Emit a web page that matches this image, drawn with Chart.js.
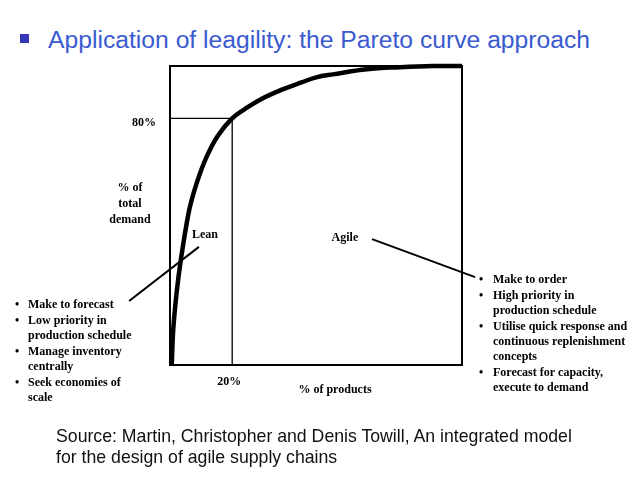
<!DOCTYPE html>
<html>
<head>
<meta charset="utf-8">
<script src="https://cdn.jsdelivr.net/npm/chart.js@4.4.1/dist/chart.umd.min.js"></script>
<style>
  html, body { margin: 0; padding: 0; background: #fff; width: 638px; height: 479px; overflow: hidden; }
  body { position: relative; font-family: "Liberation Sans", Arial, sans-serif; }
  #chart { position: absolute; left: 0; top: 0; }
  #sq { position: absolute; left: 20px; top: 34px; width: 9px; height: 9px; background: #3535b8; }
  #title { position: absolute; left: 48px; top: 25px; font-size: 24.7px; line-height: 30px; color: #3a5ad0; white-space: nowrap; }
  #source { position: absolute; left: 56px; top: 426px; font-size: 17.7px; line-height: 21px; color: #111; white-space: nowrap; }
</style>
</head>
<body>
<div id="sq"></div>
<div id="title">Application of leagility: the Pareto curve approach</div>
<canvas id="chart" width="638" height="479"></canvas>
<div id="source">Source: Martin, Christopher and Denis Towill, An integrated model<br>for the design of agile supply chains</div>

<script>
// pareto curve, % of products vs % of total demand
const curveX = [0.6, 1.1, 2.3, 3.7, 6.3, 8.0, 10.2, 13.0, 16.4, 21.2, 25.6, 31.3, 38.1, 45.0, 50.1, 55.8, 67.4, 78.8, 90.1, 100];
const curveY = [0, 11.7, 24.5, 35.1, 50.5, 57.2, 63.9, 70.6, 76.7, 82.4, 85.6, 89.0, 92.0, 94.5, 96.2, 97.2, 98.9, 99.6, 100, 100];

// the 20/80 marker and its tick labels
const xTickValues = [21.3];
const xTickLabels = ['20%'];
const yTickValues = [82.5];
const yTickLabels = ['80%'];

// axis titles
const xTitle = '% of products';
const yTitleLines = ['% of', 'total', 'demand'];

// region labels + pointer lines (data units)
const leanLabel = ['Lean', 12.0, 43.5];
const agileLabel = ['Agile', 59.9, 42.5];
const leanPointerX = [-14.0, 9.9];
const leanPointerY = [21.4, 39.5];
const agilePointerX = [69.2, 104.5];
const agilePointerY = [42.1, 29.4];

const leanNotes = [
  ['Make to forecast'],
  ['Low priority in', 'production schedule'],
  ['Manage inventory', 'centrally'],
  ['Seek economies of', 'scale']
];
const agileNotes = [
  ['Make to order'],
  ['High priority in', 'production schedule'],
  ['Utilise quick response and', 'continuous replenishment', 'concepts'],
  ['Forecast for capacity,', 'execute to demand']
];

const serif = '"Liberation Serif", "Times New Roman", serif';
const toPts = (xs, ys) => xs.map((v, i) => ({ x: v, y: ys[i] }));

function drawNotes(ctx, notes, bx, tx, y0) {
  let y = y0;
  notes.forEach(item => {
    item.forEach((line, j) => {
      if (j === 0) ctx.fillText('\u2022', bx, y);
      ctx.fillText(line, tx, y);
      y += 15;
    });
    y += 1;
  });
}

const overlay = {
  id: 'overlay',
  afterDatasetsDraw(chart) {
    const { ctx, chartArea: a, scales: { x, y } } = chart;
    ctx.save();
    // frame around the plot
    ctx.strokeStyle = '#000';
    ctx.lineWidth = 2;
    ctx.strokeRect(a.left, a.top, a.right - a.left, a.bottom - a.top);

    ctx.fillStyle = '#000';
    ctx.font = 'bold 12px ' + serif;
    ctx.textAlign = 'center';
    ctx.textBaseline = 'middle';
    yTitleLines.forEach((t, i) => ctx.fillText(t, 130, 188 + i * 16));
    ctx.fillText(xTitle, 335, 390);
    [leanLabel, agileLabel].forEach(l => ctx.fillText(l[0], x.getPixelForValue(l[1]), y.getPixelForValue(l[2])));

    ctx.textAlign = 'left';
    drawNotes(ctx, leanNotes, 15, 28, 305);
    drawNotes(ctx, agileNotes, 479, 493, 280);
    ctx.restore();
  }
};

new Chart(document.getElementById('chart'), {
  type: 'line',
  data: {
    datasets: [
      {
        data: toPts(curveX, curveY),
        borderColor: '#000',
        borderWidth: 4.5,
        tension: 0.4,
        pointRadius: 0,
        clip: false
      },
      {
        // 80% / 20% guide
        data: [{ x: 0, y: yTickValues[0] }, { x: xTickValues[0], y: yTickValues[0] }, { x: xTickValues[0], y: 0 }],
        borderColor: '#000',
        borderWidth: 1.3,
        pointRadius: 0
      },
      {
        data: toPts(leanPointerX, leanPointerY),
        borderColor: '#000',
        borderWidth: 2,
        pointRadius: 0,
        clip: false
      },
      {
        data: toPts(agilePointerX, agilePointerY),
        borderColor: '#000',
        borderWidth: 2,
        pointRadius: 0,
        clip: false
      }
    ]
  },
  options: {
    responsive: false,
    animation: false,
    events: [],
    layout: { padding: { left: 130, right: 176, top: 66, bottom: 84 } },
    plugins: { legend: { display: false }, tooltip: { enabled: false } },
    scales: {
      x: {
        type: 'linear', min: 0, max: 100,
        grid: { display: false, drawTicks: false },
        border: { display: false },
        afterBuildTicks: s => { s.ticks = xTickValues.map(v => ({ value: v })); },
        afterFit: s => { s.height = 30; },
        ticks: {
          padding: 10, autoSkip: false, maxRotation: 0, color: '#000', labelOffset: -3,
          font: { family: serif, size: 12, weight: 'bold' },
          callback: (v, i) => xTickLabels[i]
        }
      },
      y: {
        type: 'linear', min: 0, max: 100,
        grid: { display: false, drawTicks: false },
        border: { display: false },
        afterBuildTicks: s => { s.ticks = yTickValues.map(v => ({ value: v })); },
        afterFit: s => { s.width = 40; },
        ticks: {
          padding: 14, autoSkip: false, color: '#000', labelOffset: 5,
          font: { family: serif, size: 12, weight: 'bold' },
          callback: (v, i) => yTickLabels[i]
        }
      }
    }
  },
  plugins: [overlay]
});
</script>
</body>
</html>
